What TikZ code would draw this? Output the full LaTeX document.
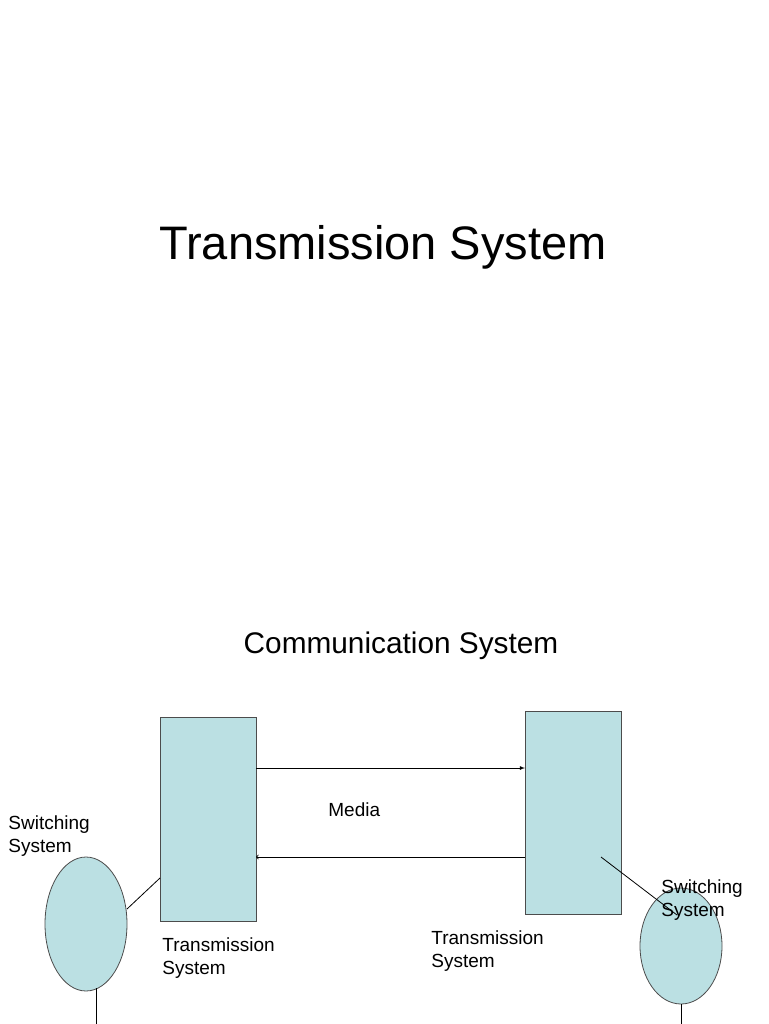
\documentclass[tikz,border=0pt]{standalone}
\usepackage{fontspec}
\setmainfont{Liberation Sans}
\begin{document}
\begin{tikzpicture}[x=1pt,y=-1pt,line width=0.8pt,
  shp/.style={draw=black!70,fill=pale,line width=0.8pt},
  lab/.style={anchor=base west,inner sep=0pt,font=\fontsize{19}{23}\selectfont,align=left}]
\definecolor{pale}{RGB}{187,224,227}
\useasboundingbox (0,0) rectangle (768,1024);
\node[anchor=base,inner sep=0pt,font=\fontsize{47}{50}\selectfont] (title) at (383,259) {Transmission System};
\node[anchor=base,inner sep=0pt,font=\fontsize{29.8}{32}\selectfont] (comm) at (401,653) {Communication System};
\draw[shp] (160,717) rectangle (256,921);
\draw[shp] (525,711) rectangle (621,914);
\coordinate (lr) at (160,878);
\coordinate (rr) at (601,857);
\draw[shp] (86,924) ellipse [x radius=41,y radius=67];
\draw[shp] (681,946) ellipse [x radius=41,y radius=58];
\coordinate (a1) at (256,768); \coordinate (a2) at (525,768);
\coordinate (b1) at (525,857); \coordinate (b2) at (256,857);
\draw[-latex] (a1) -- (a2);
\draw[->] (b1) -- (b2);
\coordinate (le) at (127,909);
\draw (le) -- (lr);
\coordinate (re) at (677,915);
\draw (rr) -- (re);
\coordinate (lb1) at (96,988); \coordinate (lb2) at (96,1024);
\draw (lb1) -- (lb2);
\coordinate (rb1) at (681,1004); \coordinate (rb2) at (681,1024);
\draw (rb1) -- (rb2);
\node[lab] (sw1) at (8,852) {Switching\\System};
\node[lab] (sw2) at (661,916) {Switching\\System};
\node[lab] (tr1) at (162,974) {Transmission\\System};
\node[lab] (tr2) at (431,967) {Transmission\\System};
\node[lab] (media) at (328,816) {Media};
\end{tikzpicture}
\end{document}
